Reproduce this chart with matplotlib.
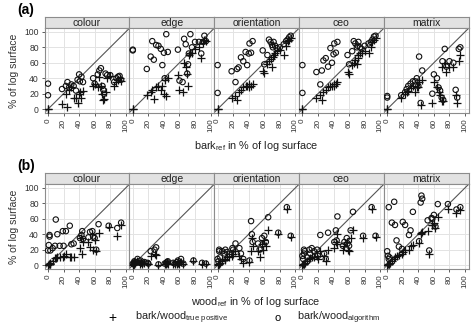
import matplotlib
matplotlib.use("Agg")
import matplotlib.pyplot as plt
import numpy as np

plt.rcParams.update({
    "font.family": ["Liberation Sans", "DejaVu Sans"],
    "mathtext.default": "regular",
    "font.size": 7,
})

METHODS = ["colour", "edge", "orientation", "ceo", "matrix"]
TICKS = [0, 20, 40, 60, 80, 100]

# (a) bark reference share per log, and per-method true positives / algorithm output
bark_ref = [0, 0, 18, 23, 25, 27, 30, 33, 36, 38, 40, 41, 43, 45, 58,
            60, 64, 66, 68, 70, 71, 72, 74, 76, 80, 85, 88, 90, 92, 94]
bark_alg = {
    "colour": [33, 18, 26, 30, 35, 28, 32, 30, 24, 38, 45, 36, 42, 35, 40,
               33, 45, 50, 53, 30, 25, 20, 46, 44, 44, 35, 40, 42, 43, 38],
    "edge": [77, 76, 52, 68, 88, 64, 83, 82, 78, 57, 73, 40, 97, 74, 77,
             37, 35, 91, 84, 46, 58, 72, 97, 80, 87, 87, 72, 87, 95, 88],
    "orientation": [57, 21, 49, 35, 52, 54, 67, 62, 74, 57, 72, 85, 73, 88, 76,
                    58, 70, 90, 87, 83, 80, 87, 82, 79, 80, 84, 88, 90, 93, 95],
    "ceo": [57, 21, 48, 32, 50, 63, 66, 55, 79, 60, 71, 85, 73, 87, 70,
            58, 75, 88, 85, 80, 82, 87, 80, 78, 82, 85, 87, 90, 94, 95],
    "matrix": [17, 15, 18, 22, 26, 30, 33, 36, 36, 40, 30, 68, 8, 50, 20,
               45, 40, 28, 24, 15, 62, 12, 78, 55, 62, 60, 25, 15, 78, 80],
}
bark_tp = {
    "colour": [0, 0, 7, 20, 3, 25, 28, 15, 14, 8, 20, 22, 15, 24, 30,
               32, 28, 42, 30, 20, 12, 13, 22, 40, 43, 30, 35, 38, 40, 36],
    "edge": [0, 0, 18, 22, 25, 13, 28, 30, 25, 30, 20, 38, 17, 40, 44,
             25, 22, 60, 55, 45, 30, 70, 72, 73, 78, 80, 66, 85, 90, 88],
    "orientation": [0, 0, 15, 17, 12, 22, 25, 28, 30, 30, 32, 28, 30, 33, 50,
                    47, 58, 62, 65, 55, 68, 70, 72, 75, 76, 70, 82, 88, 90, 92],
    "ceo": [0, 0, 14, 18, 12, 22, 25, 28, 30, 30, 33, 30, 32, 35, 48,
            45, 57, 60, 63, 58, 66, 70, 72, 73, 75, 72, 80, 87, 90, 92],
    "matrix": [0, 0, 15, 20, 22, 24, 27, 30, 22, 28, 28, 35, 5, 38, 8,
               35, 28, 22, 18, 10, 55, 10, 60, 48, 55, 55, 18, 8, 62, 70],
}

# (b) wood reference share per log
wood_ref = [0, 1, 2, 2, 3, 6, 9, 10, 12, 15, 19, 20, 23, 28, 30,
            33, 41, 43, 44, 45, 52, 54, 57, 58, 60, 62, 65, 78, 89, 94]
wood_alg = {
    "colour": [19, 26, 37, 39, 19, 22, 25, 59, 40, 25, 44, 25, 44, 51, 27,
               28, 35, 39, 44, 34, 36, 43, 44, 37, 35, 20, 53, 51, 48, 55],
    "edge": [2, 1, 3, 5, 4, 8, 3, 6, 2, 4, 3, 2, 18, 20, 23,
             1, 2, 3, 4, 5, 3, 2, 4, 6, 3, 8, 2, 6, 3, 2],
    "orientation": [8, 5, 18, 20, 10, 18, 15, 20, 17, 14, 22, 20, 28, 22, 15,
                    8, 6, 57, 40, 30, 28, 20, 35, 27, 38, 30, 62, 42, 75, 38],
    "ceo": [12, 8, 20, 15, 18, 10, 20, 15, 22, 18, 20, 12, 39, 15, 8,
            42, 30, 45, 32, 63, 25, 30, 35, 28, 25, 45, 69, 38, 75, 38],
    "matrix": [18, 12, 75, 8, 10, 55, 82, 52, 32, 24, 21, 56, 52, 39, 45,
               69, 31, 81, 90, 86, 58, 19, 61, 60, 65, 50, 79, 79, 72, 75],
}
wood_tp = {
    "colour": [0, 1, 2, 2, 3, 5, 9, 9, 10, 11, 10, 12, 15, 10, 10,
               10, 22, 35, 15, 30, 30, 24, 40, 20, 33, 18, 41, 50, 38, 52],
    "edge": [0, 1, 2, 2, 3, 5, 2, 4, 1, 3, 2, 1, 12, 15, 13,
             0, 1, 2, 3, 2, 1, 1, 2, 3, 2, 4, 1, 5, 2, 1],
    "orientation": [0, 1, 2, 2, 3, 6, 8, 7, 10, 10, 12, 15, 18, 12, 8,
                    3, 4, 18, 35, 25, 18, 10, 28, 20, 32, 25, 45, 40, 73, 37],
    "ceo": [0, 1, 2, 2, 3, 6, 8, 9, 10, 10, 12, 8, 18, 12, 5,
            20, 22, 30, 28, 40, 20, 25, 30, 20, 18, 35, 45, 35, 73, 36],
    "matrix": [0, 1, 2, 2, 3, 6, 8, 10, 12, 13, 15, 17, 20, 20, 25,
               26, 29, 40, 42, 43, 44, 15, 52, 52, 55, 48, 62, 73, 68, 72],
}

W, H = 474, 326
LEFT = 44.5
PW = 84.8
GRID = "#e3e3e3"
FRAME = "#8c8c8c"
STRIP = "#e2e2e2"


def fig_rect(x, y, w, h):
    return [x / W, 1 - (y + h) / H, w / W, h / H]


def draw_row(fig, top, ref, alg, tp, label, tag):
    strip_h = 11
    plot_h = 85
    for i, m in enumerate(METHODS):
        x0 = LEFT + i * PW
        sax = fig.add_axes(fig_rect(x0, top, PW, strip_h))
        sax.set_facecolor(STRIP)
        sax.set_xticks([])
        sax.set_yticks([])
        for s in sax.spines.values():
            s.set_color(FRAME)
            s.set_linewidth(0.8)
        sax.text(0.5, 0.45, m, ha="center", va="center", fontsize=7.5,
                 color="#222222", transform=sax.transAxes)

        ax = fig.add_axes(fig_rect(x0, top + strip_h, PW, plot_h))
        ax.set_xlim(-4.5, 104.5)
        ax.set_ylim(-5, 105)
        ax.set_xticks(TICKS)
        ax.set_yticks(TICKS)
        ax.grid(True, color=GRID, linewidth=0.7)
        ax.set_axisbelow(True)
        for s in ax.spines.values():
            s.set_color(FRAME)
            s.set_linewidth(0.8)
        ax.plot([-10, 110], [-10, 110], color="#555555", linewidth=0.8, zorder=2)
        ax.scatter(ref, alg[m], s=15, facecolors="none", edgecolors="#111111",
                   linewidths=0.8, zorder=3)
        ax.scatter(ref, tp[m], s=26, marker="+", color="#111111",
                   linewidths=0.9, zorder=4)
        ax.tick_params(axis="x", labelsize=5.9, labelrotation=90, length=2.5,
                       width=0.6, color="#444444", labelcolor="#333333", pad=1.5)
        ax.tick_params(axis="y", labelsize=6.2, length=2.5, width=0.6,
                       color="#444444", labelcolor="#333333", pad=1.5)
        if i > 0:
            ax.tick_params(axis="y", left=False, labelleft=False)
        else:
            ax.set_ylabel("% of log surface", fontsize=7.5, color="#333333",
                          labelpad=4)
    fig.text(17 / W, 1 - (top - 7) / H, tag, fontsize=10, fontweight="bold",
             ha="left", va="center")
    fig.text(256 / W, 1 - (top + strip_h + plot_h + 33) / H, label,
             fontsize=7.8, ha="center", va="center", color="#222222")


fig = plt.figure(figsize=(W / 100, H / 100), dpi=100)
draw_row(fig, 17, bark_ref, bark_alg, bark_tp,
         "bark$_{ref}$ in % of log surface", "(a)")
draw_row(fig, 173, wood_ref, wood_alg, wood_tp,
         "wood$_{ref}$ in % of log surface", "(b)")

# legend row
fig.text(112 / W, 1 - 318 / H, "+", fontsize=10, ha="center", va="center")
fig.text(135 / W, 1 - 318 / H, "bark/wood$_{true\\ positive}$", fontsize=7.8,
         ha="left", va="center", color="#222222")
fig.text(278 / W, 1 - 318 / H, "o", fontsize=8, ha="center", va="center")
fig.text(297 / W, 1 - 318 / H, "bark/wood$_{algorithm}$", fontsize=7.8,
         ha="left", va="center", color="#222222")

fig.savefig("out.png", dpi=100)
